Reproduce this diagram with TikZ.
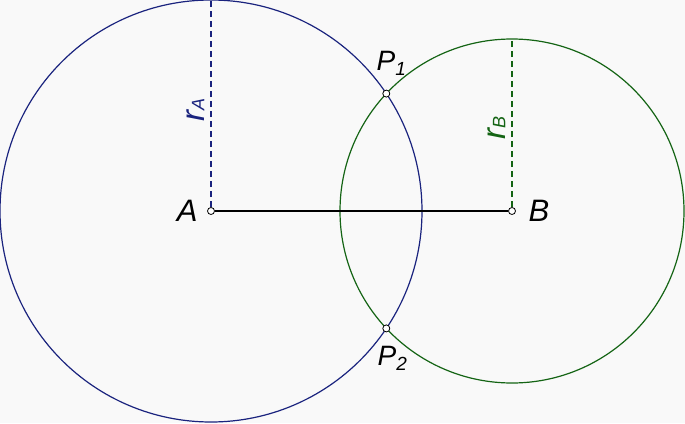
\documentclass[tikz,border=0pt]{standalone}
\usepackage{fontspec}
\setmainfont{Liberation Sans}
\usetikzlibrary{positioning}
\definecolor{circA}{RGB}{26,35,126}
\definecolor{circB}{RGB}{20,100,20}
\definecolor{paper}{RGB}{249,249,249}
\newcommand{\ptidx}[1]{\raisebox{-5pt}{\fontsize{19}{19}\selectfont #1}}
\newcommand{\ridx}[1]{{\fontsize{18}{18}\selectfont #1}}
\tikzstyle{pt}=[circle, draw, fill=white, inner sep=0pt, minimum size=7pt, line width=0.8pt]
\tikzstyle{lbl}=[inner sep=0pt, font=\itshape\fontsize{28}{28}\selectfont]
\tikzstyle{big lbl}=[lbl, font=\itshape\fontsize{31}{31}\selectfont]
\tikzstyle{rlbl}=[inner sep=6pt, anchor=south, rotate=90, font=\itshape\fontsize{33}{33}\selectfont]
\tikzstyle{radius line}=[dashed, dash pattern=on 6pt off 4pt, line width=1.1pt]

\begin{document}
\begin{tikzpicture}[x=1pt, y=-1pt, line width=1.2pt]
  \fill[paper] (0,0) rectangle (685,423);
  \useasboundingbox (0,0) rectangle (685,423);
  \coordinate (cA) at (211,211);
  \coordinate (cB) at (512,211);
  \coordinate (topA) at (211,0);
  \coordinate (topB) at (512,39);
  % the two circles
  \draw[circA] (cA) circle[radius=211];
  \draw[circB] (cB) circle[radius=172];
  % centres and crossing points
  \node[pt] (A) at (cA) {};
  \node[pt] (B) at (cB) {};
  \node[pt] (P1) at (386.3,93.6) {};
  \node[pt] (P2) at (386.3,328.4) {};
  \draw (A) -- (B);
  \draw[radius line, circA] (A) -- (topA) node[rlbl, pos=.47, text=circA] (rA) {r\ridx{A}};
  \draw[radius line, circB] (B) -- (topB) node[rlbl, pos=.47, text=circB] (rB) {r\ridx{B}};
  \node[big lbl] (labA) [left=9pt of A] {A};
  \node[big lbl] (labB) [right=12pt of B] {B};
  \node[lbl] (labP1) [above=14pt of P1, xshift=5pt] {P\ptidx{1}};
  \node[lbl] (labP2) [below=13pt of P2, xshift=6pt] {P\ptidx{2}};
\end{tikzpicture}
\end{document}
